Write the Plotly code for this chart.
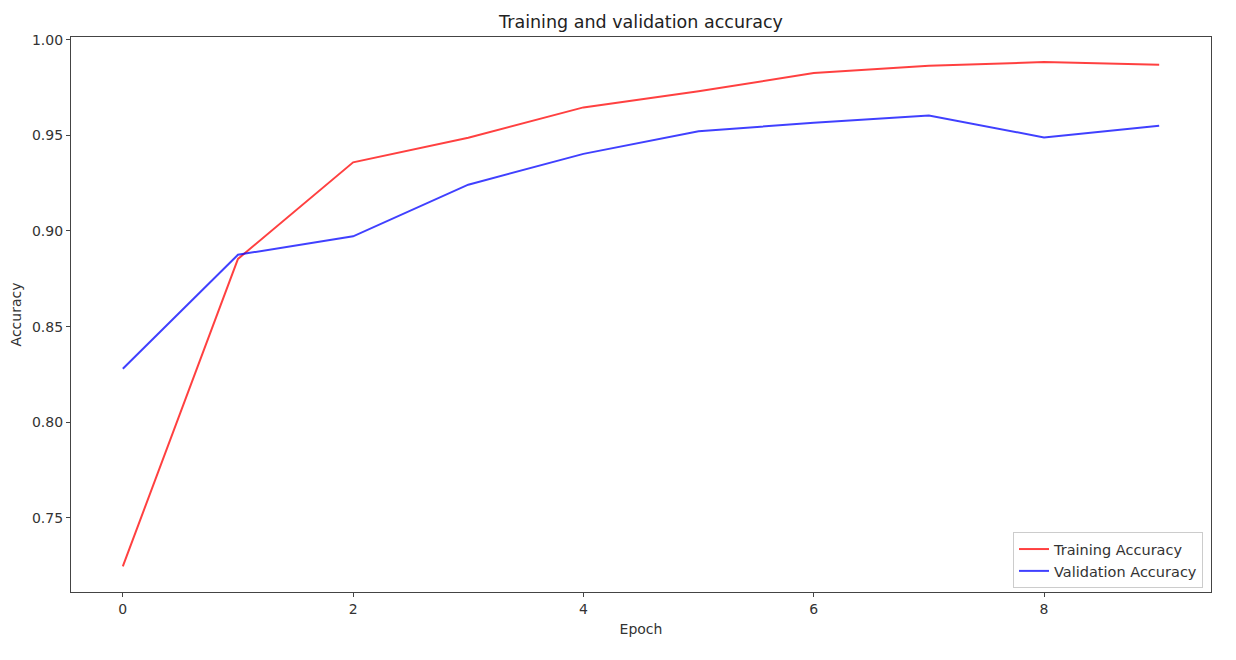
import plotly.graph_objects as go

epochs = [0, 1, 2, 3, 4, 5, 6, 7, 8, 9]
training_accuracy = [0.7247, 0.8854, 0.9359, 0.9487, 0.9646, 0.9730, 0.9826, 0.9864, 0.9883, 0.9869]
validation_accuracy = [0.8280, 0.8876, 0.8972, 0.9242, 0.9403, 0.9521, 0.9566, 0.9604, 0.9489, 0.9550]
x_ticks = [0, 2, 4, 6, 8]
y_ticks = [0.75, 0.80, 0.85, 0.90, 0.95, 1.00]
y_tick_labels = ["0.75", "0.80", "0.85", "0.90", "0.95", "1.00"]

FONT = "DejaVu Sans"
OFF = 8  # page body margin in the browser

W, H = 1236 - OFF, 660 - OFF

fig = go.Figure()
fig.add_trace(go.Scatter(x=epochs, y=training_accuracy, mode="lines",
                         name="Training Accuracy",
                         line=dict(color="rgba(255,0,0,0.75)", width=2)))
fig.add_trace(go.Scatter(x=epochs, y=validation_accuracy, mode="lines",
                         name="Validation Accuracy",
                         line=dict(color="rgba(0,0,255,0.75)", width=2)))

axis_common = dict(showline=True, linecolor="#444", linewidth=1.2, mirror=True,
                   showgrid=False, zeroline=False, ticks="outside", ticklen=4,
                   tickcolor="#444", automargin=False,
                   tickfont=dict(family=FONT, size=14, color="#333"))

fig.update_layout(
    width=W, height=H,
    paper_bgcolor="white", plot_bgcolor="white",
    margin=dict(l=71 - OFF, r=25, t=37 - OFF, b=68),
    title=dict(text="Training and validation accuracy", x=0.5, xref="paper", xanchor="center",
               y=1 - (22 - OFF) / H, yanchor="middle",
               font=dict(family=FONT, size=17.5, color="#222")),
    xaxis=dict(range=[-0.45, 9.45], tickvals=x_ticks,
               title=dict(text="Epoch", font=dict(family=FONT, size=14, color="#333"), standoff=8),
               **axis_common),
    yaxis=dict(range=[0.7113, 1.0014], tickvals=y_ticks, ticktext=y_tick_labels,
               title=dict(text="Accuracy", font=dict(family=FONT, size=14, color="#333"), standoff=10),
               **axis_common),
    legend=dict(x=0.993, y=0.007, xanchor="right", yanchor="bottom",
                bgcolor="rgba(255,255,255,0.8)", bordercolor="#ccc", borderwidth=1,
                font=dict(family=FONT, size=14.5, color="#333"), itemwidth=30,
                tracegroupgap=0),
    showlegend=True,
)

fig.write_html("out.html")
